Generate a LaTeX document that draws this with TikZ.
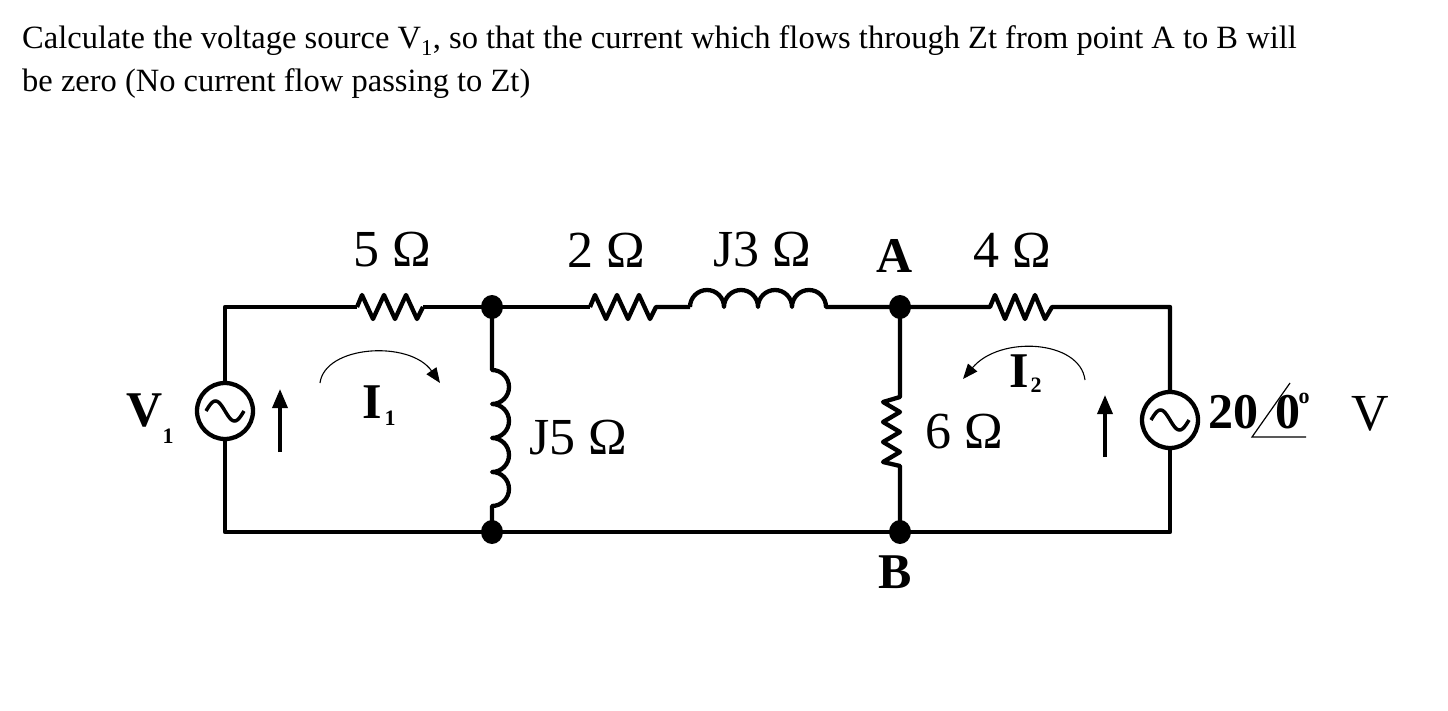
\documentclass[tikz,border=0pt]{standalone}
\usepackage{fontspec}
\setmainfont{Liberation Serif}
\usetikzlibrary{arrows.meta}
\begin{document}
\begin{tikzpicture}[x=1pt,y=-1pt,
  wire/.style={line width=4.3pt,line join=round},
  lab/.style={font=\fontsize{52}{54}\selectfont,inner sep=0pt},
  blab/.style={font=\fontsize{50}{52}\selectfont\bfseries,inner sep=0pt},
  sub/.style={font=\fontsize{22}{22}\selectfont\bfseries,inner sep=0pt},
  sarrow/.style={line width=3.5pt,-{Triangle[length=19pt,width=15pt]}},
  loop/.style={line width=1.1pt,-{Triangle[length=15pt,width=12pt]}},
  sine/.style={line width=3.5pt}]
\useasboundingbox (0,0) rectangle (1448,711);
% title
\node[anchor=base west,inner sep=0pt,font=\fontsize{32.5}{34}\selectfont] (t1) at (22,49) {Calculate the voltage source V\textsubscript{1}, so that the current which flows through Zt from point A to B will};
\node[anchor=base west,inner sep=0pt,font=\fontsize{32.5}{34}\selectfont] (t2) at (22,92) {be zero (No current flow passing to Zt)};
% coordinates
\coordinate (TL) at (225,307); \coordinate (BL) at (225,532);
\coordinate (N1) at (492,307); \coordinate (N2) at (492,532);
\coordinate (A) at (900,307); \coordinate (B) at (900,532);
\coordinate (TR) at (1170,307); \coordinate (BR) at (1170,532);
\coordinate (S1) at (225,411); \coordinate (S2) at (1170,420);
% left branch with source
\draw[wire] (S1) ++(0,-28) -- (TL) -- (357,307);
\draw[wire] (357,307) -- ++(5,-12) -- ++(11,24) -- ++(11,-24) -- ++(11,24) -- ++(11,-24) -- ++(11,24) -- ++(6,-12);
\draw[wire] (423,307) -- (N1) -- (590,307);
\draw[wire] (S1) ++(0,28) -- (BL) -- (N2) -- (B) -- (BR) -- ++(0,-84);
\draw[wire] (S1) circle (28);
\draw[sine,shift={(225,411)}] plot[domain=-1:1,samples=40,smooth] ({19*\x},{10*sin(180*\x)});
\draw[sine,shift={(1170,420)}] plot[domain=-1:1,samples=40,smooth] ({19*\x},{10*sin(180*\x)});
% 2 ohm
\draw[wire] (590,307) -- ++(5,-12) -- ++(11,24) -- ++(11,-24) -- ++(11,24) -- ++(11,-24) -- ++(11,24) -- ++(6,-12) -- (690,307);
% J3 inductor
\draw[wire] (690,307) arc (180:360:17) arc (180:360:17) arc (180:360:17) arc (180:360:17) -- (A);
% J5 inductor
\draw[wire] (N1) -- (492,370) arc (-90:90:17) arc (-90:90:17) arc (-90:90:17) arc (-90:90:17) -- (N2);
% 4 ohm
\draw[wire] (A) -- (990,307) -- ++(5,-12) -- ++(10,24) -- ++(10,-24) -- ++(10,24) -- ++(10,-24) -- ++(10,24) -- ++(7,-12) -- (TR) -- ++(0,85);
\draw[wire] (S2) circle (28);
% 6 ohm
\draw[wire] (A) -- (900,397) -- ++(-17,5) -- ++(17,10) -- ++(-17,10) -- ++(17,10) -- ++(-17,10) -- ++(17,10) -- ++(-17,10) -- ++(17,4) -- (B);
% dots
\foreach \p in {N1,N2,A,B} \fill (\p) ellipse (11 and 12);
% arrows
\draw[sarrow] (280,452) -- (280,389);
\draw[sarrow] (1105,457) -- (1105,395);
\draw[loop] (320,383) .. controls (325,345) and (410,340) .. (440,383);
\draw[loop] (1085,380) .. controls (1080,340) and (1000,335) .. (963,379);
% labels
\node[lab] (l5) at (392,250) {5 Ω};
\node[lab] (l2) at (606,250) {2 Ω};
\node[lab] (l3) at (762,250) {J3 Ω};
\node[blab] (lA) at (895,256) {A};
\node[lab] (l4) at (1012,250) {4 Ω};
\node[lab] (lJ5) at (578,438) {J5 Ω};
\node[lab] (l6) at (964,432) {6 Ω};
\node[blab] (lB) at (895,572) {B};
\node[blab] (lV1) at (145,411) {V};
\node[sub] (lV1s) at (168,436) {1};
\node[blab] (lI1) at (372,402) {I};
\node[sub] (lI1s) at (390,418) {1};
\node[blab] (lI2) at (1019,371) {I};
\node[sub] (lI2s) at (1036,385) {2};
\node[blab,anchor=west] (l20) at (1208,412) {20};
\draw[line width=1.2pt] (1290,383) -- (1252,437) -- (1306,437);
\node[blab,anchor=west] (l0) at (1275,412) {0};
\node[sub] (ldeg) at (1304,398) {o};
\node[lab] (lV) at (1370,414) {V};
\end{tikzpicture}
\end{document}
